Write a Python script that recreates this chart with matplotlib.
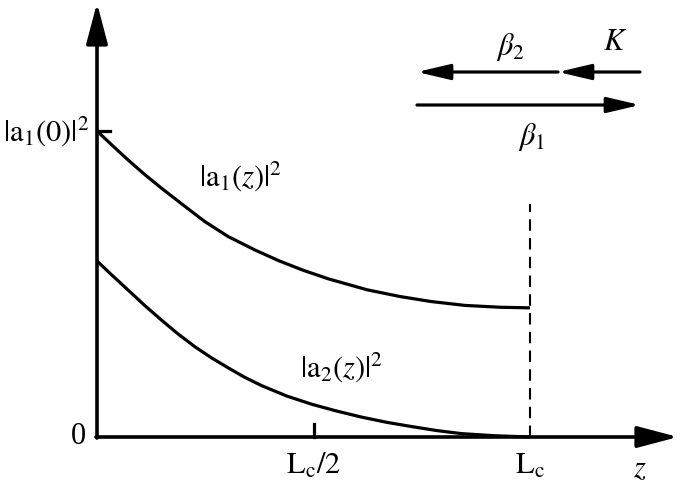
import matplotlib
matplotlib.use("Agg")
import matplotlib.pyplot as plt

plt.rcParams['mathtext.fontset'] = 'stix'
plt.rcParams['font.family'] = ['Liberation Serif', 'DejaVu Serif']

# data (z in units of Lc, power normalised to |a1(0)|^2)
z1_pts = [0.0, 0.036, 0.072, 0.110, 0.149, 0.200, 0.249, 0.303, 0.365, 0.420, 0.476,
          0.534, 0.624, 0.700, 0.770, 0.850, 0.931, 1.0]
a1_pts = [1.0, 0.952, 0.905, 0.858, 0.813, 0.757, 0.704, 0.655, 0.611, 0.576, 0.545,
          0.517, 0.481, 0.459, 0.443, 0.430, 0.424, 0.422]
z2_pts = [0.0, 0.036, 0.072, 0.110, 0.149, 0.187, 0.226, 0.264, 0.303, 0.340, 0.380,
          0.438, 0.496, 0.553, 0.611, 0.669, 0.727, 0.785, 0.842, 0.920, 1.0]
a2_pts = [0.575, 0.527, 0.480, 0.430, 0.382, 0.337, 0.295, 0.259, 0.226, 0.196, 0.168,
          0.134, 0.107, 0.085, 0.065, 0.048, 0.034, 0.021, 0.011, 0.004, 0.0]
xtick_pos = [0.5, 1.0]
xtick_labels = [r'$\mathrm{L_c/2}$', r'$\mathrm{L_c}$']

W, H = 685, 487
fig = plt.figure(figsize=(W / 100, H / 100), dpi=100)
ax = fig.add_axes([0, 0, 1, 1])
x0, sx = 97, 433
y0, sy = 437, 306
ax.set_xlim(-x0 / sx, (W - x0) / sx)
ax.set_ylim(-(H - y0) / sy, y0 / sy)
ax.axis('off')

def px(x):
    return (x - x0) / sx

def py(y):
    return (y0 - y) / sy

k = 'black'
# axes with arrows
big = '-|>,head_length=2.5,head_width=0.66'
ax.annotate('', xy=(0, py(3)), xytext=(0, py(438)),
            arrowprops=dict(arrowstyle=big, lw=2.6, color=k, shrinkA=0, shrinkB=0))
ax.annotate('', xy=(px(678), 0), xytext=(px(96), 0),
            arrowprops=dict(arrowstyle=big, lw=2.6, color=k, shrinkA=0, shrinkB=0))

# curves
ax.plot(z1_pts, a1_pts, color=k, lw=2.3, solid_capstyle='butt', solid_joinstyle='round')
ax.plot(z2_pts, a2_pts, color=k, lw=2.3, solid_capstyle='butt', solid_joinstyle='round')

# tick marks
ax.plot([0, px(110)], [1.0, 1.0], color=k, lw=2.3)
ax.plot([0.5, 0.5], [0, py(424)], color=k, lw=2.3)
ax.plot([1.0, 1.0], [0, py(204)], color=k, lw=1.5, linestyle=(0, (5.5, 3.5)))

fs = 22
for xp, lab in zip(xtick_pos, xtick_labels):
    ax.text(xp, py(466), lab, ha='center', va='center', fontsize=fs)
ax.text(px(640), py(470), r'$z$', ha='center', va='center', fontsize=fs)
ax.text(px(78), 0, '0', ha='center', va='center', fontsize=fs)
ax.text(px(46), py(131), r'$|\mathrm{a}_1(0)|^2$', ha='center', va='center', fontsize=fs)
ax.text(px(241), py(176), r'$|\mathrm{a}_1(z)|^2$', ha='center', va='center', fontsize=fs)
ax.text(px(342), py(367), r'$|\mathrm{a}_2(z)|^2$', ha='center', va='center', fontsize=fs)

# wave-vector arrows
hs = '-|>,head_length=2.0,head_width=0.47'
ax.annotate('', xy=(px(417), py(72)), xytext=(px(558), py(72)),
            arrowprops=dict(arrowstyle=hs, lw=2.3, color=k, shrinkA=0, shrinkB=0))
ax.annotate('', xy=(px(558), py(72)), xytext=(px(640), py(72)),
            arrowprops=dict(arrowstyle=hs, lw=2.3, color=k, shrinkA=0, shrinkB=0))
ax.annotate('', xy=(px(640), py(105)), xytext=(px(417), py(105)),
            arrowprops=dict(arrowstyle=hs, lw=2.3, color=k, shrinkA=0, shrinkB=0))
ax.text(px(510), py(47), r'$\beta_2$', ha='center', va='center', fontsize=fs)
ax.text(px(615), py(42), r'$K$', ha='center', va='center', fontsize=fs)
ax.text(px(532), py(137), r'$\beta_1$', ha='center', va='center', fontsize=fs)

fig.savefig('out.png', dpi=100)
